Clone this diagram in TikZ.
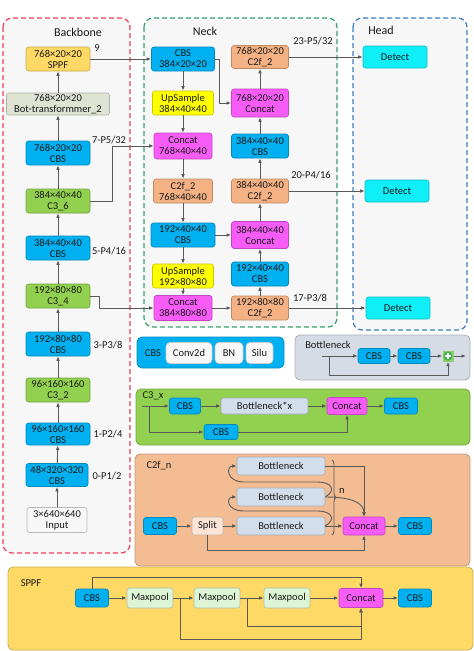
\documentclass[tikz,border=0pt]{standalone}
\usepackage{fontspec}
\setmainfont{Carlito}
\usetikzlibrary{arrows.meta,decorations.pathreplacing}

\begin{document}
\begin{tikzpicture}[x=1pt, y=-1pt, >={Latex[length=4.5pt,width=3.6pt]}, line join=round,
  every node/.style={font=\fontsize{10.5}{11}\selectfont, text=txt},
  blk/.style={draw=#1!78!black, fill=#1, rounded corners=2.5pt, align=center, inner sep=1pt,
    minimum width=64pt, minimum height=24pt, line width=0.6pt},
  link/.style={->, draw=arr, line width=0.9pt},
  wire/.style={draw=arr, line width=0.9pt},
  stage/.style={dash pattern=on 5pt off 3pt, line width=1.2pt, rounded corners=9pt, fill=gray!6},
  panel/.style={draw=#1!80!black, fill=#1, rounded corners=5pt, line width=0.8pt},
  tag/.style={inner sep=1pt},
  title/.style={font=\fontsize{12}{13}\selectfont, inner sep=1pt}]
  \definecolor{txt}{HTML}{1A1A1A}
  \definecolor{arr}{HTML}{595959}
  \definecolor{cbs}{HTML}{00B0F0}
  \definecolor{cthree}{HTML}{92D050}
  \definecolor{ctwof}{HTML}{F4B183}
  \definecolor{cat}{HTML}{F75CF7}
  \definecolor{ups}{HTML}{FFFF00}
  \definecolor{sppf}{HTML}{FFD966}
  \definecolor{bot}{HTML}{DEE3D3}
  \definecolor{det}{HTML}{10EEF8}
  \definecolor{bneck}{HTML}{D2DEEC}
  \definecolor{pool}{HTML}{DDF5D5}
  \definecolor{split}{HTML}{FCE4D6}
  \definecolor{plain}{HTML}{F7F7F7}
  \definecolor{bkred}{HTML}{F0405A}
  \definecolor{nkgreen}{HTML}{33A36B}
  \definecolor{hdblue}{HTML}{3C7EBF}
  \definecolor{bnpanel}{HTML}{D6DCE5}
  \definecolor{cfpanel}{HTML}{F4BC92}
  \definecolor{sppanel}{HTML}{FFD966}
  \definecolor{plusbg}{HTML}{8FD16F}
  \definecolor{plusfg}{HTML}{3FAE49}
  \useasboundingbox (0,0) rectangle (474,651);

  \draw[stage, draw=bkred] (3,18) rectangle (130,553);
  \draw[stage, draw=nkgreen] (144,18) rectangle (337,327);
  \draw[stage, draw=hdblue] (353,18) rectangle (467,330);
  \node[title] (tbk) at (78,32) {Backbone};
  \node[title] (tnk) at (205,31) {Neck};
  \node[title] (thd) at (381,30) {Head};

  \node[blk=plain, draw=gray!55, minimum width=60pt, minimum height=25pt] (bin) at (57,520) {3×640×640\\Input};
  \node[blk=cbs, minimum width=62pt, minimum height=23pt] (b0) at (57,475) {48×320×320\\CBS};
  \node[blk=cbs, minimum height=22pt] (b1) at (58,434) {96×160×160\\CBS};
  \node[blk=cthree] (b2) at (58,390) {96×160×160\\C3\_2};
  \node[blk=cbs] (b3) at (58,344) {192×80×80\\CBS};
  \node[blk=cthree] (b4) at (58,296) {192×80×80\\C3\_4};
  \node[blk=cbs] (b5) at (58,248) {384×40×40\\CBS};
  \node[blk=cthree] (b6) at (58,201) {384×40×40\\C3\_6};
  \node[blk=cbs] (b7) at (58,153) {768×20×20\\CBS};
  \node[blk=bot, minimum width=103pt, minimum height=22pt] (b8) at (58,104) {768×20×20\\Bot-transformmer\_2};
  \node[blk=sppf] (b9) at (58,59) {768×20×20\\SPPF};
  \draw[link] (bin) -- (b0);
  \draw[link] (b0) -- (b1);
  \draw[link] (b1) -- (b2);
  \draw[link] (b2) -- (b3);
  \draw[link] (b3) -- (b4);
  \draw[link] (b4) -- (b5);
  \draw[link] (b5) -- (b6);
  \draw[link] (b6) -- (b7);
  \draw[link] (b7) -- (b8);
  \draw[link] (b8) -- (b9);
  \node[tag] (l9) at (97,48) {9};
  \node[tag] (l7) at (109,140) {7-P5/32};
  \node[tag] (l5) at (109,251) {5-P4/16};
  \node[tag] (l3) at (108,345) {3-P3/8};
  \node[tag] (l1) at (108,434) {1-P2/4};
  \node[tag] (l0) at (107,476) {0-P1/2};

  \node[blk=cbs, minimum width=63pt] (n10) at (183,59) {CBS\\384×20×20};
  \node[blk=ups, minimum width=61pt] (n11) at (183,103) {UpSample\\384×40×40};
  \node[blk=cat, minimum width=58pt, minimum height=26pt] (n12) at (183,146) {Concat\\768×40×40};
  \node[blk=ctwof, minimum width=59pt] (n13) at (183,191) {C2f\_2\\768×40×40};
  \node[blk=cbs] (n14) at (183,235) {192×40×40\\CBS};
  \node[blk=ups, minimum width=61pt] (n15) at (183,276) {UpSample\\192×80×80};
  \node[blk=cat, minimum width=58pt, minimum height=25pt] (n16) at (183,308) {Concat\\384×80×80};
  \node[blk=ctwof, minimum width=57pt] (n17) at (260,308) {192×80×80\\C2f\_2};
  \node[blk=cbs, minimum width=57pt] (n18) at (260,274) {192×40×40\\CBS};
  \node[blk=cat, minimum width=57pt, minimum height=27pt] (n19) at (260,235) {384×40×40\\Concat};
  \node[blk=ctwof, minimum width=57pt] (n20) at (260,191) {384×40×40\\C2f\_2};
  \node[blk=cbs, minimum width=57pt] (n21) at (260,146) {384×40×40\\CBS};
  \node[blk=cat, minimum width=57pt, minimum height=28pt] (n22) at (260,103) {768×20×20\\Concat};
  \node[blk=ctwof, minimum width=57pt, minimum height=23pt] (n23) at (260,57) {768×20×20\\C2f\_2};
  \draw[link] (b9) -- (n10);
  \draw[link] (b6.east) -- ++(22,0) |- (n12.west);
  \draw[link] (b4.east) -- ++(9,0) |- (n16.west);
  \draw[link] (n10) -- (n11);
  \draw[link] (n11) -- (n12);
  \draw[link] (n12) -- (n13);
  \draw[link] (n13) -- (n14);
  \draw[link] (n14) -- (n15);
  \draw[link] (n15) -- (n16);
  \draw[link] (n16) -- (n17);
  \draw[link] (n17) -- (n18);
  \draw[link] (n18) -- (n19);
  \draw[link] (n19) -- (n20);
  \draw[link] (n20) -- (n21);
  \draw[link] (n21) -- (n22);
  \draw[link] (n22) -- (n23);
  \draw[link] (n14) -- (n19);
  \draw[link] (n10.east) -- ++(5,0) |- (n22.west);
  \node[tag] (l23) at (313,41) {23-P5/32};
  \node[tag] (l20) at (311,175) {20-P4/16};
  \node[tag] (l17) at (310,298) {17-P3/8};

  \node[blk=det, minimum height=22pt] (d1) at (395,57) {Detect};
  \node[blk=det, minimum height=22pt] (d2) at (397,191) {Detect};
  \node[blk=det, minimum height=22pt] (d3) at (398,308) {Detect};
  \draw[link] (n23) -- (d1);
  \draw[link] (n20) -- (d2);
  \draw[link] (n17) -- (d3);

  \draw[panel=cbs] (137,337) rectangle (284,368);
  \node (cbst) at (153,353) {CBS};
  \node[blk=plain, draw=gray!40, minimum width=46pt, minimum height=21pt, rounded corners=4pt] (conv) at (189,353) {Conv2d};
  \node[blk=plain, draw=gray!40, minimum width=28pt, minimum height=21pt, rounded corners=4pt] (bn) at (229,353) {BN};
  \node[blk=plain, draw=gray!40, minimum width=27pt, minimum height=21pt, rounded corners=4pt] (silu) at (259.5,353) {Silu};

  \draw[panel=bnpanel] (295,335) rectangle (470,380);
  \node (bnt) at (328,345) {Bottleneck};
  \coordinate (bkin) at (322,356);
  \coordinate (bkfork) at (329,356);
  \coordinate (bkout) at (466,356);
  \node[blk=cbs, minimum width=32pt, minimum height=15pt] (bk1) at (374,356) {CBS};
  \node[blk=cbs, minimum width=32pt, minimum height=15pt] (bk2) at (414,356) {CBS};
  \node[fill=plusbg, minimum size=11pt, inner sep=0pt] (pl) at (448,356) {};
  \fill[plusfg] (pl.center) circle (4.6pt);
  \draw[white, line width=1.2pt] (pl.center) ++(-3.2,0) -- ++(6.4,0) (pl.center) ++(0,-3.2) -- ++(0,6.4);
  \draw[link] (bkin) -- (bk1);
  \draw[link] (bk1) -- (bk2);
  \draw[link] (bk2) -- (pl);
  \draw[link] (pl) -- (bkout);
  \draw[link] (bkfork) -- ++(0,19) -| (pl.south);

  \draw[panel=cthree] (136,389) rectangle (470,445);
  \node (c3t) at (153,396) {C3\_x};
  \coordinate (c3in) at (142,406);
  \coordinate (c3fork) at (149,406);
  \node[blk=cbs, minimum width=31pt, minimum height=16pt] (c3a) at (185,406) {CBS};
  \node[blk=bneck, minimum width=87pt, minimum height=16pt] (c3b) at (264.5,406) {Bottleneck*x};
  \node[blk=cat, minimum width=40pt, minimum height=17pt] (c3c) at (347,406) {Concat};
  \node[blk=cbs, minimum width=33pt, minimum height=16pt] (c3d) at (401,406) {CBS};
  \node[blk=cbs, minimum width=34pt, minimum height=15pt] (c3e) at (221,432) {CBS};
  \draw[link] (c3in) -- (c3a);
  \draw[link] (c3a) -- (c3b);
  \draw[link] (c3b) -- (c3c);
  \draw[link] (c3c) -- (c3d);
  \draw[link] (c3fork) |- (c3e.west);
  \draw[link] (c3e.east) -| (c3c.south);

  \draw[panel=cfpanel] (135,454) rectangle (470,566);
  \node (cft) at (159,466) {C2f\_n};
  \node[blk=cbs, minimum width=33pt, minimum height=17pt] (f0) at (160,526) {CBS};
  \node[blk=split, minimum width=31pt, minimum height=18pt] (fs) at (207.5,526) {Split};
  \node[blk=bneck, minimum width=88pt, minimum height=18pt] (m3) at (281,526) {Bottleneck};
  \node[blk=bneck, minimum width=88pt, minimum height=18pt] (m2) at (281,497) {Bottleneck};
  \node[blk=bneck, minimum width=88pt, minimum height=18pt] (m1) at (281,466) {Bottleneck};
  \node[blk=cat, minimum width=42pt, minimum height=18pt] (fc) at (364,526) {Concat};
  \node[blk=cbs, minimum width=33pt, minimum height=17pt] (f5) at (415,526) {CBS};
  \draw[wire, decorate, decoration={brace, amplitude=4pt}] (332,460) -- (332,535);
  \node (nlab) at (342,491) {n};
  \draw[link] (f0) -- (fs);
  \draw[link] (fs) -- (m3);
  \draw[link] (m3) -- (fc);
  \draw[link] (fc) -- (f5);
  \draw[link] (m1.east) -| (fc.north);
  \draw[link] (m2.east) .. controls (352,497) and (364,503) .. (fc.north);
  \draw[link] (fs.south) -- ++(0,15) -| (fc.south);
  \draw[link] (m3.east) .. controls (337,519) and (331,511) .. (318,511) -- (244,511) .. controls (226,511) and (226,497) .. (m2.west);
  \draw[link] (m2.east) .. controls (337,490) and (331,482) .. (318,482) -- (244,482) .. controls (226,482) and (226,466) .. (m1.west);

  \draw[panel=sppanel] (8,567) rectangle (473,650);
  \node (spt) at (31,583) {SPPF};
  \node[blk=cbs, minimum width=33pt, minimum height=18pt] (s0) at (92,598) {CBS};
  \node[blk=pool, minimum width=46pt, minimum height=20pt] (p1) at (150,598) {Maxpool};
  \node[blk=pool, minimum width=46pt, minimum height=20pt] (p2) at (217,598) {Maxpool};
  \node[blk=pool, minimum width=46pt, minimum height=20pt] (p3) at (287,598) {Maxpool};
  \node[blk=cat, minimum width=44pt, minimum height=19pt] (sc) at (361,598) {Concat};
  \node[blk=cbs, minimum width=33pt, minimum height=18pt] (s5) at (415,598) {CBS};
  \draw[link] (s0) -- (p1);
  \draw[link] (p1) -- (p2);
  \draw[link] (p2) -- (p3);
  \draw[link] (p3) -- (sc);
  \draw[link] (sc) -- (s5);
  \draw[link] (s0.north) -- ++(0,-11) -| (sc.north);
  \draw[link] (p1.east) -- ++(7,0) -- ++(0,41) -| (sc.south);
  \draw[link] (p2.east) -- ++(7,0) -- ++(0,28) -| (sc.south);
\end{tikzpicture}
\end{document}
